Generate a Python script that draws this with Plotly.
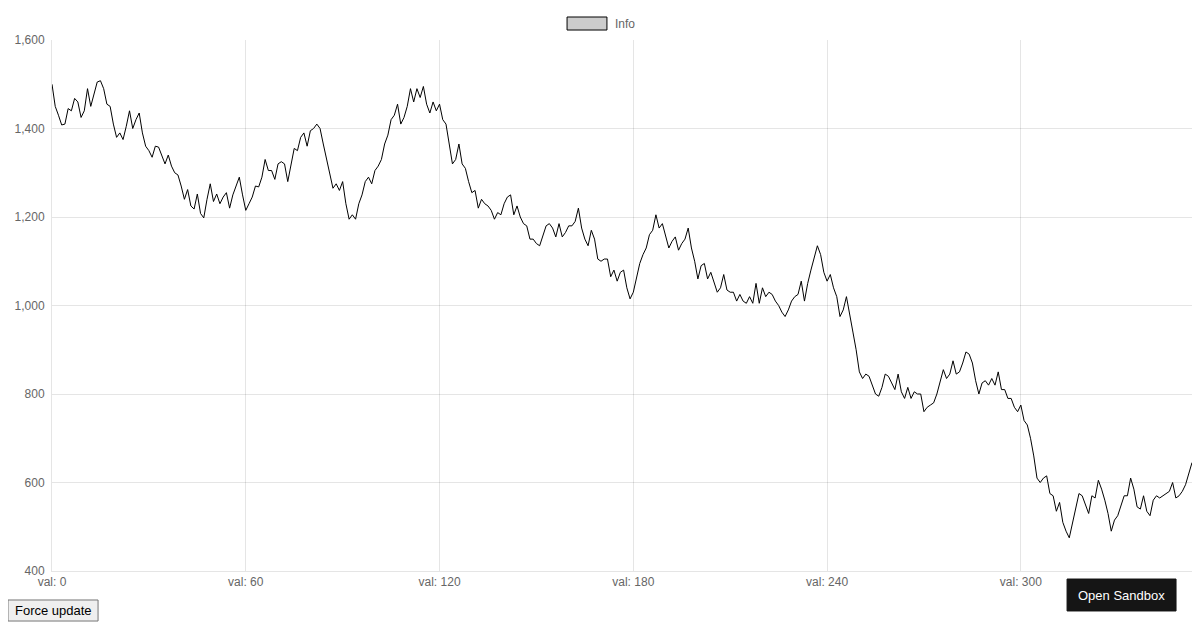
import plotly.graph_objects as go

values = [
    1500, 1450, 1430, 1408, 1410, 1445, 1440, 1468, 1460, 1425,
    1440, 1490, 1450, 1480, 1505, 1508, 1490, 1455, 1450, 1410,
    1380, 1390, 1375, 1405, 1440, 1400, 1420, 1435, 1390, 1360,
    1350, 1335, 1360, 1358, 1340, 1320, 1340, 1315, 1300, 1295,
    1270, 1240, 1262, 1225, 1218, 1252, 1208, 1198, 1240, 1275,
    1235, 1252, 1230, 1245, 1255, 1220, 1250, 1270, 1290, 1250,
    1215, 1230, 1245, 1270, 1268, 1290, 1330, 1305, 1305, 1285,
    1320, 1325, 1320, 1280, 1320, 1355, 1350, 1380, 1390, 1360,
    1395, 1400, 1410, 1400, 1365, 1330, 1300, 1265, 1275, 1260,
    1280, 1230, 1195, 1205, 1195, 1230, 1250, 1280, 1290, 1275,
    1305, 1315, 1330, 1365, 1385, 1420, 1430, 1455, 1410, 1425,
    1450, 1490, 1460, 1490, 1470, 1495, 1455, 1435, 1460, 1440,
    1455, 1420, 1410, 1360, 1320, 1330, 1365, 1320, 1310, 1280,
    1255, 1260, 1220, 1240, 1230, 1225, 1215, 1195, 1210, 1205,
    1230, 1245, 1250, 1205, 1225, 1200, 1185, 1180, 1150, 1150,
    1140, 1135, 1160, 1180, 1185, 1175, 1155, 1185, 1155, 1165,
    1180, 1180, 1190, 1220, 1175, 1150, 1135, 1170, 1150, 1105,
    1100, 1105, 1105, 1065, 1080, 1055, 1075, 1080, 1040, 1015,
    1030, 1065, 1095, 1115, 1130, 1160, 1170, 1205, 1175, 1185,
    1155, 1130, 1145, 1155, 1125, 1140, 1150, 1175, 1130, 1100,
    1060, 1090, 1095, 1060, 1075, 1050, 1030, 1040, 1070, 1035,
    1030, 1030, 1010, 1025, 1010, 1005, 1020, 1005, 1050, 1005,
    1040, 1020, 1030, 1025, 1010, 1000, 985, 975, 990, 1010,
    1020, 1025, 1055, 1010, 1050, 1080, 1110, 1135, 1115, 1075,
    1055, 1070, 1040, 1020, 975, 990, 1020, 975, 940, 900,
    850, 835, 845, 840, 820, 800, 795, 815, 845, 840,
    825, 810, 845, 805, 790, 815, 790, 805, 800, 800,
    760, 770, 775, 780, 800, 830, 855, 835, 845, 875,
    845, 850, 870, 895, 890, 870, 830, 800, 825, 830,
    820, 835, 820, 850, 810, 810, 790, 790, 770, 760,
    775, 740, 730, 700, 660, 610, 600, 610, 615, 575,
    570, 535, 555, 510, 490, 475, 510, 545, 575, 570,
    550, 530, 570, 565, 605, 585, 560, 530, 490, 515,
    525, 550, 570, 570, 610, 585, 545, 540, 570, 535,
    525, 560, 570, 565, 570, 575, 580, 600, 565, 570,
    580, 595, 620, 645,
]
x_vals = list(range(len(values)))
tick_vals = [0, 60, 120, 180, 240, 300]
tick_text = ["val: " + str(v) for v in tick_vals]

fig = go.Figure()
fig.add_trace(go.Scatter(x=x_vals, y=values, mode="lines", name="Info",
                         line=dict(color="black", width=1), showlegend=False))

grid = "rgba(0,0,0,0.1)"
# page body has an 8px margin, so the figure is 16px smaller than the window
fig.update_layout(
    width=1184, height=614,
    margin=dict(l=44, r=0, t=32, b=51),
    plot_bgcolor="white", paper_bgcolor="white",
    font=dict(family="Liberation Sans, Arial, sans-serif", size=12, color="#666"),
    xaxis=dict(range=[0, len(values) - 1], tickvals=tick_vals, ticktext=tick_text,
               showgrid=True, gridcolor=grid, zeroline=False,
               showline=True, linecolor=grid, ticks="", ticklen=8),
    yaxis=dict(range=[400, 1600], dtick=200, tickformat=",", showgrid=True,
               gridcolor=grid, zeroline=False, showline=True, linecolor=grid,
               ticks="", ticklabelstandoff=4),
)

# chart.js style legend box
fig.add_shape(type="rect", xref="paper", yref="paper", x0=0.4518, x1=0.4868,
              y0=1.0188, y1=1.0433, fillcolor="#cccccc", line=dict(color="black", width=1))
fig.add_annotation(xref="paper", yref="paper", x=0.4921, y=1.031, text="Info",
                   showarrow=False, xanchor="left", yanchor="middle",
                   font=dict(size=12, color="#666"))

# page buttons
fig.add_shape(type="rect", xref="paper", yref="paper", x0=-0.0386, x1=0.0404,
              y0=-0.0942, y1=-0.0546, fillcolor="#efefef", line=dict(color="#767676", width=1))
fig.add_annotation(xref="paper", yref="paper", x=0.0009, y=-0.0744, text="Force update",
                   showarrow=False, xanchor="center", yanchor="middle",
                   font=dict(size=13, color="black"))
fig.add_shape(type="rect", xref="paper", yref="paper", x0=0.8904, x1=0.986,
              y0=-0.0753, y1=-0.0151, fillcolor="#151515", line=dict(color="#151515", width=1))
fig.add_annotation(xref="paper", yref="paper", x=0.938, y=-0.0452, text="Open Sandbox",
                   showarrow=False, xanchor="center", yanchor="middle",
                   font=dict(size=13, color="white"))

fig.write_html("out.html")
